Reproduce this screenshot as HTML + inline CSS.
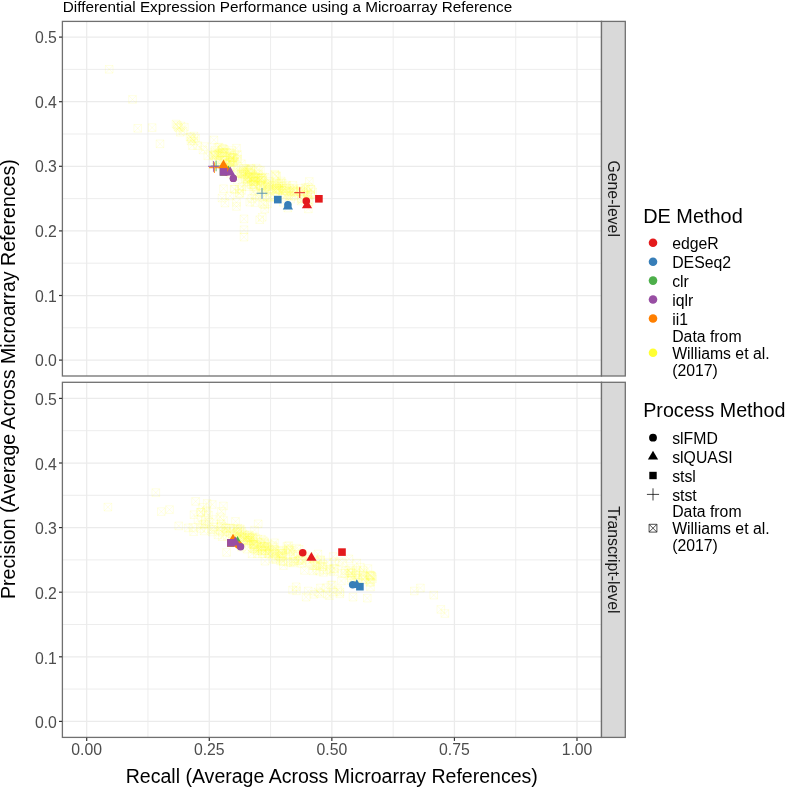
<!DOCTYPE html>
<html><head><meta charset="utf-8"><title>Differential Expression Performance</title>
<style>html,body{margin:0;padding:0;background:#fff;width:785px;height:788px;overflow:hidden}svg{display:block}</style>
</head><body>
<svg width="785" height="788" viewBox="0 0 785 788" font-family="'Liberation Sans', Arial, Helvetica, sans-serif">
<rect width="785" height="788" fill="#fff"/>
<path d="M62.4 327.80H601.5" stroke="#EBEBEB" stroke-width="0.9"/>
<path d="M62.4 263.20H601.5" stroke="#EBEBEB" stroke-width="0.9"/>
<path d="M62.4 198.60H601.5" stroke="#EBEBEB" stroke-width="0.9"/>
<path d="M62.4 134.00H601.5" stroke="#EBEBEB" stroke-width="0.9"/>
<path d="M62.4 69.40H601.5" stroke="#EBEBEB" stroke-width="0.9"/>
<path d="M147.99 21.4V376.0" stroke="#EBEBEB" stroke-width="0.9"/>
<path d="M270.56 21.4V376.0" stroke="#EBEBEB" stroke-width="0.9"/>
<path d="M393.14 21.4V376.0" stroke="#EBEBEB" stroke-width="0.9"/>
<path d="M515.71 21.4V376.0" stroke="#EBEBEB" stroke-width="0.9"/>
<path d="M62.4 360.10H601.5" stroke="#EBEBEB" stroke-width="1.25"/>
<path d="M62.4 295.50H601.5" stroke="#EBEBEB" stroke-width="1.25"/>
<path d="M62.4 230.90H601.5" stroke="#EBEBEB" stroke-width="1.25"/>
<path d="M62.4 166.30H601.5" stroke="#EBEBEB" stroke-width="1.25"/>
<path d="M62.4 101.70H601.5" stroke="#EBEBEB" stroke-width="1.25"/>
<path d="M62.4 37.10H601.5" stroke="#EBEBEB" stroke-width="1.25"/>
<path d="M86.70 21.4V376.0" stroke="#EBEBEB" stroke-width="1.25"/>
<path d="M209.28 21.4V376.0" stroke="#EBEBEB" stroke-width="1.25"/>
<path d="M331.85 21.4V376.0" stroke="#EBEBEB" stroke-width="1.25"/>
<path d="M454.43 21.4V376.0" stroke="#EBEBEB" stroke-width="1.25"/>
<path d="M577.00 21.4V376.0" stroke="#EBEBEB" stroke-width="1.25"/>
<g stroke="#FFFF33" stroke-opacity="0.13" stroke-width="1" fill="none">
<path d="M105.4 65.5h7.6v7.6h-7.6zl7.6 7.6m0 -7.6l-7.6 7.6"/>
<path d="M128.7 95.6h7.6v7.6h-7.6zl7.6 7.6m0 -7.6l-7.6 7.6"/>
<path d="M133.9 124.5h7.6v7.6h-7.6zl7.6 7.6m0 -7.6l-7.6 7.6"/>
<path d="M148.3 123.8h7.6v7.6h-7.6zl7.6 7.6m0 -7.6l-7.6 7.6"/>
<path d="M156.2 140.0h7.6v7.6h-7.6zl7.6 7.6m0 -7.6l-7.6 7.6"/>
<path d="M173.4 121.4h7.6v7.6h-7.6zl7.6 7.6m0 -7.6l-7.6 7.6"/>
<path d="M180.6 123.4h7.6v7.6h-7.6zl7.6 7.6m0 -7.6l-7.6 7.6"/>
<path d="M176.5 128.5h7.6v7.6h-7.6zl7.6 7.6m0 -7.6l-7.6 7.6"/>
<path d="M174.2 123.2h7.6v7.6h-7.6zl7.6 7.6m0 -7.6l-7.6 7.6"/>
<path d="M179.2 127.2h7.6v7.6h-7.6zl7.6 7.6m0 -7.6l-7.6 7.6"/>
<path d="M187.2 133.1h7.6v7.6h-7.6zl7.6 7.6m0 -7.6l-7.6 7.6"/>
<path d="M191.8 134.6h7.6v7.6h-7.6zl7.6 7.6m0 -7.6l-7.6 7.6"/>
<path d="M188.7 141.8h7.6v7.6h-7.6zl7.6 7.6m0 -7.6l-7.6 7.6"/>
<path d="M193.8 141.8h7.6v7.6h-7.6zl7.6 7.6m0 -7.6l-7.6 7.6"/>
<path d="M190.2 137.2h7.6v7.6h-7.6zl7.6 7.6m0 -7.6l-7.6 7.6"/>
<path d="M200.9 142.8h7.6v7.6h-7.6zl7.6 7.6m0 -7.6l-7.6 7.6"/>
<path d="M210.1 136.2h7.6v7.6h-7.6zl7.6 7.6m0 -7.6l-7.6 7.6"/>
<path d="M204.0 152.0h7.6v7.6h-7.6zl7.6 7.6m0 -7.6l-7.6 7.6"/>
<path d="M199.2 146.2h7.6v7.6h-7.6zl7.6 7.6m0 -7.6l-7.6 7.6"/>
<path d="M221.2 199.2h7.6v7.6h-7.6zl7.6 7.6m0 -7.6l-7.6 7.6"/>
<path d="M232.7 198.6h7.6v7.6h-7.6zl7.6 7.6m0 -7.6l-7.6 7.6"/>
<path d="M232.7 202.7h7.6v7.6h-7.6zl7.6 7.6m0 -7.6l-7.6 7.6"/>
<path d="M260.9 201.0h7.6v7.6h-7.6zl7.6 7.6m0 -7.6l-7.6 7.6"/>
<path d="M260.9 205.2h7.6v7.6h-7.6zl7.6 7.6m0 -7.6l-7.6 7.6"/>
<path d="M240.2 215.1h7.6v7.6h-7.6zl7.6 7.6m0 -7.6l-7.6 7.6"/>
<path d="M255.9 215.9h7.6v7.6h-7.6zl7.6 7.6m0 -7.6l-7.6 7.6"/>
<path d="M258.4 213.5h7.6v7.6h-7.6zl7.6 7.6m0 -7.6l-7.6 7.6"/>
<path d="M240.2 225.9h7.6v7.6h-7.6zl7.6 7.6m0 -7.6l-7.6 7.6"/>
<path d="M240.2 233.3h7.6v7.6h-7.6zl7.6 7.6m0 -7.6l-7.6 7.6"/>
<path d="M259.2 200.2h7.6v7.6h-7.6zl7.6 7.6m0 -7.6l-7.6 7.6"/>
<path d="M284.0 204.2h7.6v7.6h-7.6zl7.6 7.6m0 -7.6l-7.6 7.6"/>
<path d="M218.2 194.2h7.6v7.6h-7.6zl7.6 7.6m0 -7.6l-7.6 7.6"/>
<path d="M226.2 192.2h7.6v7.6h-7.6zl7.6 7.6m0 -7.6l-7.6 7.6"/>
<path d="M254.5 166.0h7.6v7.6h-7.6zl7.6 7.6m0 -7.6l-7.6 7.6"/>
<path d="M264.1 182.8h7.6v7.6h-7.6zl7.6 7.6m0 -7.6l-7.6 7.6"/>
<path d="M267.8 181.7h7.6v7.6h-7.6zl7.6 7.6m0 -7.6l-7.6 7.6"/>
<path d="M287.2 187.2h7.6v7.6h-7.6zl7.6 7.6m0 -7.6l-7.6 7.6"/>
<path d="M304.2 196.1h7.6v7.6h-7.6zl7.6 7.6m0 -7.6l-7.6 7.6"/>
<path d="M211.2 146.4h7.6v7.6h-7.6zl7.6 7.6m0 -7.6l-7.6 7.6"/>
<path d="M226.6 158.1h7.6v7.6h-7.6zl7.6 7.6m0 -7.6l-7.6 7.6"/>
<path d="M289.4 187.2h7.6v7.6h-7.6zl7.6 7.6m0 -7.6l-7.6 7.6"/>
<path d="M254.0 174.4h7.6v7.6h-7.6zl7.6 7.6m0 -7.6l-7.6 7.6"/>
<path d="M304.6 205.1h7.6v7.6h-7.6zl7.6 7.6m0 -7.6l-7.6 7.6"/>
<path d="M237.8 170.1h7.6v7.6h-7.6zl7.6 7.6m0 -7.6l-7.6 7.6"/>
<path d="M243.6 175.1h7.6v7.6h-7.6zl7.6 7.6m0 -7.6l-7.6 7.6"/>
<path d="M303.7 189.8h7.6v7.6h-7.6zl7.6 7.6m0 -7.6l-7.6 7.6"/>
<path d="M250.0 187.4h7.6v7.6h-7.6zl7.6 7.6m0 -7.6l-7.6 7.6"/>
<path d="M217.7 146.6h7.6v7.6h-7.6zl7.6 7.6m0 -7.6l-7.6 7.6"/>
<path d="M239.5 170.2h7.6v7.6h-7.6zl7.6 7.6m0 -7.6l-7.6 7.6"/>
<path d="M220.5 156.4h7.6v7.6h-7.6zl7.6 7.6m0 -7.6l-7.6 7.6"/>
<path d="M222.0 160.5h7.6v7.6h-7.6zl7.6 7.6m0 -7.6l-7.6 7.6"/>
<path d="M225.9 158.7h7.6v7.6h-7.6zl7.6 7.6m0 -7.6l-7.6 7.6"/>
<path d="M248.1 173.5h7.6v7.6h-7.6zl7.6 7.6m0 -7.6l-7.6 7.6"/>
<path d="M303.8 191.4h7.6v7.6h-7.6zl7.6 7.6m0 -7.6l-7.6 7.6"/>
<path d="M246.7 169.4h7.6v7.6h-7.6zl7.6 7.6m0 -7.6l-7.6 7.6"/>
<path d="M216.4 156.1h7.6v7.6h-7.6zl7.6 7.6m0 -7.6l-7.6 7.6"/>
<path d="M233.5 176.2h7.6v7.6h-7.6zl7.6 7.6m0 -7.6l-7.6 7.6"/>
<path d="M218.8 149.1h7.6v7.6h-7.6zl7.6 7.6m0 -7.6l-7.6 7.6"/>
<path d="M252.7 173.5h7.6v7.6h-7.6zl7.6 7.6m0 -7.6l-7.6 7.6"/>
<path d="M261.4 183.5h7.6v7.6h-7.6zl7.6 7.6m0 -7.6l-7.6 7.6"/>
<path d="M286.9 195.3h7.6v7.6h-7.6zl7.6 7.6m0 -7.6l-7.6 7.6"/>
<path d="M279.3 189.4h7.6v7.6h-7.6zl7.6 7.6m0 -7.6l-7.6 7.6"/>
<path d="M265.9 177.8h7.6v7.6h-7.6zl7.6 7.6m0 -7.6l-7.6 7.6"/>
<path d="M210.5 152.3h7.6v7.6h-7.6zl7.6 7.6m0 -7.6l-7.6 7.6"/>
<path d="M289.2 181.6h7.6v7.6h-7.6zl7.6 7.6m0 -7.6l-7.6 7.6"/>
<path d="M224.8 158.2h7.6v7.6h-7.6zl7.6 7.6m0 -7.6l-7.6 7.6"/>
<path d="M290.4 192.0h7.6v7.6h-7.6zl7.6 7.6m0 -7.6l-7.6 7.6"/>
<path d="M299.5 188.1h7.6v7.6h-7.6zl7.6 7.6m0 -7.6l-7.6 7.6"/>
<path d="M212.3 156.4h7.6v7.6h-7.6zl7.6 7.6m0 -7.6l-7.6 7.6"/>
<path d="M262.3 185.6h7.6v7.6h-7.6zl7.6 7.6m0 -7.6l-7.6 7.6"/>
<path d="M272.8 171.9h7.6v7.6h-7.6zl7.6 7.6m0 -7.6l-7.6 7.6"/>
<path d="M221.5 158.1h7.6v7.6h-7.6zl7.6 7.6m0 -7.6l-7.6 7.6"/>
<path d="M306.9 185.4h7.6v7.6h-7.6zl7.6 7.6m0 -7.6l-7.6 7.6"/>
<path d="M251.7 177.5h7.6v7.6h-7.6zl7.6 7.6m0 -7.6l-7.6 7.6"/>
<path d="M259.2 176.6h7.6v7.6h-7.6zl7.6 7.6m0 -7.6l-7.6 7.6"/>
<path d="M278.4 182.4h7.6v7.6h-7.6zl7.6 7.6m0 -7.6l-7.6 7.6"/>
<path d="M276.9 179.0h7.6v7.6h-7.6zl7.6 7.6m0 -7.6l-7.6 7.6"/>
<path d="M242.7 174.6h7.6v7.6h-7.6zl7.6 7.6m0 -7.6l-7.6 7.6"/>
<path d="M243.5 168.5h7.6v7.6h-7.6zl7.6 7.6m0 -7.6l-7.6 7.6"/>
<path d="M219.3 145.1h7.6v7.6h-7.6zl7.6 7.6m0 -7.6l-7.6 7.6"/>
<path d="M246.7 166.1h7.6v7.6h-7.6zl7.6 7.6m0 -7.6l-7.6 7.6"/>
<path d="M247.5 176.4h7.6v7.6h-7.6zl7.6 7.6m0 -7.6l-7.6 7.6"/>
<path d="M264.8 179.5h7.6v7.6h-7.6zl7.6 7.6m0 -7.6l-7.6 7.6"/>
<path d="M277.4 177.2h7.6v7.6h-7.6zl7.6 7.6m0 -7.6l-7.6 7.6"/>
<path d="M210.7 148.1h7.6v7.6h-7.6zl7.6 7.6m0 -7.6l-7.6 7.6"/>
<path d="M226.4 163.5h7.6v7.6h-7.6zl7.6 7.6m0 -7.6l-7.6 7.6"/>
<path d="M296.9 184.5h7.6v7.6h-7.6zl7.6 7.6m0 -7.6l-7.6 7.6"/>
<path d="M233.1 155.6h7.6v7.6h-7.6zl7.6 7.6m0 -7.6l-7.6 7.6"/>
<path d="M245.5 167.1h7.6v7.6h-7.6zl7.6 7.6m0 -7.6l-7.6 7.6"/>
<path d="M227.6 149.2h7.6v7.6h-7.6zl7.6 7.6m0 -7.6l-7.6 7.6"/>
<path d="M304.3 183.4h7.6v7.6h-7.6zl7.6 7.6m0 -7.6l-7.6 7.6"/>
<path d="M250.6 174.2h7.6v7.6h-7.6zl7.6 7.6m0 -7.6l-7.6 7.6"/>
<path d="M252.1 183.4h7.6v7.6h-7.6zl7.6 7.6m0 -7.6l-7.6 7.6"/>
<path d="M306.9 190.3h7.6v7.6h-7.6zl7.6 7.6m0 -7.6l-7.6 7.6"/>
<path d="M211.5 149.9h7.6v7.6h-7.6zl7.6 7.6m0 -7.6l-7.6 7.6"/>
<path d="M236.2 168.5h7.6v7.6h-7.6zl7.6 7.6m0 -7.6l-7.6 7.6"/>
<path d="M209.6 151.4h7.6v7.6h-7.6zl7.6 7.6m0 -7.6l-7.6 7.6"/>
<path d="M218.3 159.5h7.6v7.6h-7.6zl7.6 7.6m0 -7.6l-7.6 7.6"/>
<path d="M271.6 181.4h7.6v7.6h-7.6zl7.6 7.6m0 -7.6l-7.6 7.6"/>
<path d="M275.2 184.5h7.6v7.6h-7.6zl7.6 7.6m0 -7.6l-7.6 7.6"/>
<path d="M251.2 177.2h7.6v7.6h-7.6zl7.6 7.6m0 -7.6l-7.6 7.6"/>
<path d="M237.6 159.9h7.6v7.6h-7.6zl7.6 7.6m0 -7.6l-7.6 7.6"/>
<path d="M280.5 184.8h7.6v7.6h-7.6zl7.6 7.6m0 -7.6l-7.6 7.6"/>
<path d="M297.2 197.2h7.6v7.6h-7.6zl7.6 7.6m0 -7.6l-7.6 7.6"/>
<path d="M249.4 172.2h7.6v7.6h-7.6zl7.6 7.6m0 -7.6l-7.6 7.6"/>
<path d="M246.9 164.6h7.6v7.6h-7.6zl7.6 7.6m0 -7.6l-7.6 7.6"/>
<path d="M256.6 166.6h7.6v7.6h-7.6zl7.6 7.6m0 -7.6l-7.6 7.6"/>
<path d="M276.2 186.4h7.6v7.6h-7.6zl7.6 7.6m0 -7.6l-7.6 7.6"/>
<path d="M301.6 183.8h7.6v7.6h-7.6zl7.6 7.6m0 -7.6l-7.6 7.6"/>
<path d="M257.2 182.0h7.6v7.6h-7.6zl7.6 7.6m0 -7.6l-7.6 7.6"/>
<path d="M244.2 166.1h7.6v7.6h-7.6zl7.6 7.6m0 -7.6l-7.6 7.6"/>
<path d="M258.4 182.1h7.6v7.6h-7.6zl7.6 7.6m0 -7.6l-7.6 7.6"/>
<path d="M214.4 151.8h7.6v7.6h-7.6zl7.6 7.6m0 -7.6l-7.6 7.6"/>
<path d="M237.9 170.4h7.6v7.6h-7.6zl7.6 7.6m0 -7.6l-7.6 7.6"/>
<path d="M278.5 186.9h7.6v7.6h-7.6zl7.6 7.6m0 -7.6l-7.6 7.6"/>
<path d="M305.5 177.7h7.6v7.6h-7.6zl7.6 7.6m0 -7.6l-7.6 7.6"/>
<path d="M256.5 182.3h7.6v7.6h-7.6zl7.6 7.6m0 -7.6l-7.6 7.6"/>
<path d="M271.3 171.3h7.6v7.6h-7.6zl7.6 7.6m0 -7.6l-7.6 7.6"/>
<path d="M245.5 168.4h7.6v7.6h-7.6zl7.6 7.6m0 -7.6l-7.6 7.6"/>
<path d="M220.4 165.0h7.6v7.6h-7.6zl7.6 7.6m0 -7.6l-7.6 7.6"/>
<path d="M226.5 158.9h7.6v7.6h-7.6zl7.6 7.6m0 -7.6l-7.6 7.6"/>
<path d="M263.3 192.1h7.6v7.6h-7.6zl7.6 7.6m0 -7.6l-7.6 7.6"/>
<path d="M285.7 184.3h7.6v7.6h-7.6zl7.6 7.6m0 -7.6l-7.6 7.6"/>
<path d="M274.2 185.9h7.6v7.6h-7.6zl7.6 7.6m0 -7.6l-7.6 7.6"/>
<path d="M298.3 195.8h7.6v7.6h-7.6zl7.6 7.6m0 -7.6l-7.6 7.6"/>
<path d="M226.4 149.1h7.6v7.6h-7.6zl7.6 7.6m0 -7.6l-7.6 7.6"/>
<path d="M239.7 166.7h7.6v7.6h-7.6zl7.6 7.6m0 -7.6l-7.6 7.6"/>
<path d="M300.3 194.8h7.6v7.6h-7.6zl7.6 7.6m0 -7.6l-7.6 7.6"/>
<path d="M228.8 161.2h7.6v7.6h-7.6zl7.6 7.6m0 -7.6l-7.6 7.6"/>
<path d="M241.3 168.8h7.6v7.6h-7.6zl7.6 7.6m0 -7.6l-7.6 7.6"/>
<path d="M256.2 176.6h7.6v7.6h-7.6zl7.6 7.6m0 -7.6l-7.6 7.6"/>
<path d="M259.3 173.2h7.6v7.6h-7.6zl7.6 7.6m0 -7.6l-7.6 7.6"/>
<path d="M222.2 161.3h7.6v7.6h-7.6zl7.6 7.6m0 -7.6l-7.6 7.6"/>
<path d="M271.1 170.4h7.6v7.6h-7.6zl7.6 7.6m0 -7.6l-7.6 7.6"/>
<path d="M233.8 155.0h7.6v7.6h-7.6zl7.6 7.6m0 -7.6l-7.6 7.6"/>
<path d="M299.2 186.6h7.6v7.6h-7.6zl7.6 7.6m0 -7.6l-7.6 7.6"/>
<path d="M308.9 188.2h7.6v7.6h-7.6zl7.6 7.6m0 -7.6l-7.6 7.6"/>
<path d="M230.0 164.1h7.6v7.6h-7.6zl7.6 7.6m0 -7.6l-7.6 7.6"/>
<path d="M244.0 178.2h7.6v7.6h-7.6zl7.6 7.6m0 -7.6l-7.6 7.6"/>
<path d="M245.1 173.4h7.6v7.6h-7.6zl7.6 7.6m0 -7.6l-7.6 7.6"/>
<path d="M297.6 194.7h7.6v7.6h-7.6zl7.6 7.6m0 -7.6l-7.6 7.6"/>
<path d="M253.6 178.1h7.6v7.6h-7.6zl7.6 7.6m0 -7.6l-7.6 7.6"/>
<path d="M217.6 149.2h7.6v7.6h-7.6zl7.6 7.6m0 -7.6l-7.6 7.6"/>
<path d="M261.4 173.5h7.6v7.6h-7.6zl7.6 7.6m0 -7.6l-7.6 7.6"/>
<path d="M227.8 159.1h7.6v7.6h-7.6zl7.6 7.6m0 -7.6l-7.6 7.6"/>
<path d="M300.3 191.0h7.6v7.6h-7.6zl7.6 7.6m0 -7.6l-7.6 7.6"/>
<path d="M282.6 184.1h7.6v7.6h-7.6zl7.6 7.6m0 -7.6l-7.6 7.6"/>
<path d="M258.3 174.3h7.6v7.6h-7.6zl7.6 7.6m0 -7.6l-7.6 7.6"/>
<path d="M291.9 188.1h7.6v7.6h-7.6zl7.6 7.6m0 -7.6l-7.6 7.6"/>
<path d="M281.2 182.1h7.6v7.6h-7.6zl7.6 7.6m0 -7.6l-7.6 7.6"/>
<path d="M209.4 151.1h7.6v7.6h-7.6zl7.6 7.6m0 -7.6l-7.6 7.6"/>
<path d="M274.3 186.3h7.6v7.6h-7.6zl7.6 7.6m0 -7.6l-7.6 7.6"/>
<path d="M256.2 181.6h7.6v7.6h-7.6zl7.6 7.6m0 -7.6l-7.6 7.6"/>
<path d="M226.7 169.8h7.6v7.6h-7.6zl7.6 7.6m0 -7.6l-7.6 7.6"/>
<path d="M252.4 164.3h7.6v7.6h-7.6zl7.6 7.6m0 -7.6l-7.6 7.6"/>
<path d="M273.1 182.3h7.6v7.6h-7.6zl7.6 7.6m0 -7.6l-7.6 7.6"/>
<path d="M212.5 156.4h7.6v7.6h-7.6zl7.6 7.6m0 -7.6l-7.6 7.6"/>
<path d="M214.0 143.6h7.6v7.6h-7.6zl7.6 7.6m0 -7.6l-7.6 7.6"/>
<path d="M302.4 185.3h7.6v7.6h-7.6zl7.6 7.6m0 -7.6l-7.6 7.6"/>
<path d="M272.3 172.7h7.6v7.6h-7.6zl7.6 7.6m0 -7.6l-7.6 7.6"/>
<path d="M266.0 193.0h7.6v7.6h-7.6zl7.6 7.6m0 -7.6l-7.6 7.6"/>
<path d="M304.7 196.2h7.6v7.6h-7.6zl7.6 7.6m0 -7.6l-7.6 7.6"/>
<path d="M247.9 170.1h7.6v7.6h-7.6zl7.6 7.6m0 -7.6l-7.6 7.6"/>
<path d="M241.5 175.3h7.6v7.6h-7.6zl7.6 7.6m0 -7.6l-7.6 7.6"/>
<path d="M257.7 174.4h7.6v7.6h-7.6zl7.6 7.6m0 -7.6l-7.6 7.6"/>
<path d="M307.4 185.8h7.6v7.6h-7.6zl7.6 7.6m0 -7.6l-7.6 7.6"/>
<path d="M284.4 188.2h7.6v7.6h-7.6zl7.6 7.6m0 -7.6l-7.6 7.6"/>
<path d="M225.7 153.2h7.6v7.6h-7.6zl7.6 7.6m0 -7.6l-7.6 7.6"/>
<path d="M215.6 150.5h7.6v7.6h-7.6zl7.6 7.6m0 -7.6l-7.6 7.6"/>
<path d="M257.6 174.5h7.6v7.6h-7.6zl7.6 7.6m0 -7.6l-7.6 7.6"/>
<path d="M259.0 188.3h7.6v7.6h-7.6zl7.6 7.6m0 -7.6l-7.6 7.6"/>
<path d="M233.1 170.1h7.6v7.6h-7.6zl7.6 7.6m0 -7.6l-7.6 7.6"/>
<path d="M279.7 186.7h7.6v7.6h-7.6zl7.6 7.6m0 -7.6l-7.6 7.6"/>
<path d="M279.5 198.6h7.6v7.6h-7.6zl7.6 7.6m0 -7.6l-7.6 7.6"/>
<path d="M297.0 187.6h7.6v7.6h-7.6zl7.6 7.6m0 -7.6l-7.6 7.6"/>
<path d="M306.7 191.5h7.6v7.6h-7.6zl7.6 7.6m0 -7.6l-7.6 7.6"/>
<path d="M255.0 174.3h7.6v7.6h-7.6zl7.6 7.6m0 -7.6l-7.6 7.6"/>
<path d="M265.5 185.0h7.6v7.6h-7.6zl7.6 7.6m0 -7.6l-7.6 7.6"/>
<path d="M212.8 151.0h7.6v7.6h-7.6zl7.6 7.6m0 -7.6l-7.6 7.6"/>
<path d="M249.2 173.2h7.6v7.6h-7.6zl7.6 7.6m0 -7.6l-7.6 7.6"/>
<path d="M243.3 178.2h7.6v7.6h-7.6zl7.6 7.6m0 -7.6l-7.6 7.6"/>
<path d="M305.5 197.7h7.6v7.6h-7.6zl7.6 7.6m0 -7.6l-7.6 7.6"/>
<path d="M296.5 188.1h7.6v7.6h-7.6zl7.6 7.6m0 -7.6l-7.6 7.6"/>
<path d="M257.2 176.6h7.6v7.6h-7.6zl7.6 7.6m0 -7.6l-7.6 7.6"/>
<path d="M272.6 180.3h7.6v7.6h-7.6zl7.6 7.6m0 -7.6l-7.6 7.6"/>
<path d="M243.1 182.9h7.6v7.6h-7.6zl7.6 7.6m0 -7.6l-7.6 7.6"/>
<path d="M237.8 169.3h7.6v7.6h-7.6zl7.6 7.6m0 -7.6l-7.6 7.6"/>
<path d="M271.8 187.8h7.6v7.6h-7.6zl7.6 7.6m0 -7.6l-7.6 7.6"/>
<path d="M272.8 184.0h7.6v7.6h-7.6zl7.6 7.6m0 -7.6l-7.6 7.6"/>
<path d="M256.9 175.9h7.6v7.6h-7.6zl7.6 7.6m0 -7.6l-7.6 7.6"/>
<path d="M285.2 191.8h7.6v7.6h-7.6zl7.6 7.6m0 -7.6l-7.6 7.6"/>
<path d="M282.8 181.3h7.6v7.6h-7.6zl7.6 7.6m0 -7.6l-7.6 7.6"/>
<path d="M247.1 177.6h7.6v7.6h-7.6zl7.6 7.6m0 -7.6l-7.6 7.6"/>
<path d="M272.7 184.8h7.6v7.6h-7.6zl7.6 7.6m0 -7.6l-7.6 7.6"/>
<path d="M290.1 185.8h7.6v7.6h-7.6zl7.6 7.6m0 -7.6l-7.6 7.6"/>
<path d="M238.6 172.3h7.6v7.6h-7.6zl7.6 7.6m0 -7.6l-7.6 7.6"/>
<path d="M261.4 182.8h7.6v7.6h-7.6zl7.6 7.6m0 -7.6l-7.6 7.6"/>
<path d="M281.5 187.3h7.6v7.6h-7.6zl7.6 7.6m0 -7.6l-7.6 7.6"/>
<path d="M251.7 173.6h7.6v7.6h-7.6zl7.6 7.6m0 -7.6l-7.6 7.6"/>
<path d="M250.0 178.1h7.6v7.6h-7.6zl7.6 7.6m0 -7.6l-7.6 7.6"/>
<path d="M242.4 165.3h7.6v7.6h-7.6zl7.6 7.6m0 -7.6l-7.6 7.6"/>
<path d="M288.0 192.7h7.6v7.6h-7.6zl7.6 7.6m0 -7.6l-7.6 7.6"/>
<path d="M249.3 180.8h7.6v7.6h-7.6zl7.6 7.6m0 -7.6l-7.6 7.6"/>
<path d="M290.8 188.8h7.6v7.6h-7.6zl7.6 7.6m0 -7.6l-7.6 7.6"/>
<path d="M252.0 182.6h7.6v7.6h-7.6zl7.6 7.6m0 -7.6l-7.6 7.6"/>
<path d="M247.7 164.9h7.6v7.6h-7.6zl7.6 7.6m0 -7.6l-7.6 7.6"/>
<path d="M269.0 182.9h7.6v7.6h-7.6zl7.6 7.6m0 -7.6l-7.6 7.6"/>
<path d="M288.7 184.6h7.6v7.6h-7.6zl7.6 7.6m0 -7.6l-7.6 7.6"/>
<path d="M270.1 181.6h7.6v7.6h-7.6zl7.6 7.6m0 -7.6l-7.6 7.6"/>
<path d="M283.2 190.3h7.6v7.6h-7.6zl7.6 7.6m0 -7.6l-7.6 7.6"/>
<path d="M239.4 164.6h7.6v7.6h-7.6zl7.6 7.6m0 -7.6l-7.6 7.6"/>
<path d="M239.2 167.9h7.6v7.6h-7.6zl7.6 7.6m0 -7.6l-7.6 7.6"/>
<path d="M251.6 172.6h7.6v7.6h-7.6zl7.6 7.6m0 -7.6l-7.6 7.6"/>
<path d="M263.3 180.2h7.6v7.6h-7.6zl7.6 7.6m0 -7.6l-7.6 7.6"/>
<path d="M271.1 192.8h7.6v7.6h-7.6zl7.6 7.6m0 -7.6l-7.6 7.6"/>
<path d="M275.1 179.9h7.6v7.6h-7.6zl7.6 7.6m0 -7.6l-7.6 7.6"/>
<path d="M275.2 185.6h7.6v7.6h-7.6zl7.6 7.6m0 -7.6l-7.6 7.6"/>
<path d="M281.4 192.4h7.6v7.6h-7.6zl7.6 7.6m0 -7.6l-7.6 7.6"/>
<path d="M278.4 179.2h7.6v7.6h-7.6zl7.6 7.6m0 -7.6l-7.6 7.6"/>
<path d="M259.4 186.0h7.6v7.6h-7.6zl7.6 7.6m0 -7.6l-7.6 7.6"/>
<path d="M244.2 173.5h7.6v7.6h-7.6zl7.6 7.6m0 -7.6l-7.6 7.6"/>
<path d="M249.8 177.6h7.6v7.6h-7.6zl7.6 7.6m0 -7.6l-7.6 7.6"/>
<path d="M272.9 184.5h7.6v7.6h-7.6zl7.6 7.6m0 -7.6l-7.6 7.6"/>
<path d="M241.0 164.5h7.6v7.6h-7.6zl7.6 7.6m0 -7.6l-7.6 7.6"/>
<path d="M241.1 170.6h7.6v7.6h-7.6zl7.6 7.6m0 -7.6l-7.6 7.6"/>
<path d="M246.1 173.9h7.6v7.6h-7.6zl7.6 7.6m0 -7.6l-7.6 7.6"/>
<path d="M249.9 180.7h7.6v7.6h-7.6zl7.6 7.6m0 -7.6l-7.6 7.6"/>
<path d="M254.7 170.3h7.6v7.6h-7.6zl7.6 7.6m0 -7.6l-7.6 7.6"/>
<path d="M289.9 186.4h7.6v7.6h-7.6zl7.6 7.6m0 -7.6l-7.6 7.6"/>
<path d="M265.2 186.7h7.6v7.6h-7.6zl7.6 7.6m0 -7.6l-7.6 7.6"/>
<path d="M293.0 187.3h7.6v7.6h-7.6zl7.6 7.6m0 -7.6l-7.6 7.6"/>
<path d="M265.7 181.1h7.6v7.6h-7.6zl7.6 7.6m0 -7.6l-7.6 7.6"/>
<path d="M249.5 174.5h7.6v7.6h-7.6zl7.6 7.6m0 -7.6l-7.6 7.6"/>
<path d="M235.6 189.4h7.6v7.6h-7.6zl7.6 7.6m0 -7.6l-7.6 7.6"/>
<path d="M230.3 185.5h7.6v7.6h-7.6zl7.6 7.6m0 -7.6l-7.6 7.6"/>
<path d="M260.8 191.7h7.6v7.6h-7.6zl7.6 7.6m0 -7.6l-7.6 7.6"/>
<path d="M247.9 194.7h7.6v7.6h-7.6zl7.6 7.6m0 -7.6l-7.6 7.6"/>
<path d="M219.7 184.9h7.6v7.6h-7.6zl7.6 7.6m0 -7.6l-7.6 7.6"/>
<path d="M235.4 185.3h7.6v7.6h-7.6zl7.6 7.6m0 -7.6l-7.6 7.6"/>
<path d="M247.6 181.0h7.6v7.6h-7.6zl7.6 7.6m0 -7.6l-7.6 7.6"/>
<path d="M238.2 183.0h7.6v7.6h-7.6zl7.6 7.6m0 -7.6l-7.6 7.6"/>
<path d="M263.9 200.0h7.6v7.6h-7.6zl7.6 7.6m0 -7.6l-7.6 7.6"/>
<path d="M246.0 198.3h7.6v7.6h-7.6zl7.6 7.6m0 -7.6l-7.6 7.6"/>
<path d="M237.7 186.7h7.6v7.6h-7.6zl7.6 7.6m0 -7.6l-7.6 7.6"/>
<path d="M251.3 198.8h7.6v7.6h-7.6zl7.6 7.6m0 -7.6l-7.6 7.6"/>
<path d="M230.9 185.4h7.6v7.6h-7.6zl7.6 7.6m0 -7.6l-7.6 7.6"/>
<path d="M253.1 191.9h7.6v7.6h-7.6zl7.6 7.6m0 -7.6l-7.6 7.6"/>
<path d="M256.0 193.3h7.6v7.6h-7.6zl7.6 7.6m0 -7.6l-7.6 7.6"/>
<path d="M266.2 194.0h7.6v7.6h-7.6zl7.6 7.6m0 -7.6l-7.6 7.6"/>
<path d="M251.3 190.3h7.6v7.6h-7.6zl7.6 7.6m0 -7.6l-7.6 7.6"/>
<path d="M235.8 189.7h7.6v7.6h-7.6zl7.6 7.6m0 -7.6l-7.6 7.6"/>
<path d="M221.7 148.5h7.6v7.6h-7.6zl7.6 7.6m0 -7.6l-7.6 7.6"/>
<path d="M221.1 156.8h7.6v7.6h-7.6zl7.6 7.6m0 -7.6l-7.6 7.6"/>
<path d="M229.0 157.7h7.6v7.6h-7.6zl7.6 7.6m0 -7.6l-7.6 7.6"/>
<path d="M226.6 157.2h7.6v7.6h-7.6zl7.6 7.6m0 -7.6l-7.6 7.6"/>
<path d="M229.9 153.6h7.6v7.6h-7.6zl7.6 7.6m0 -7.6l-7.6 7.6"/>
<path d="M216.6 149.5h7.6v7.6h-7.6zl7.6 7.6m0 -7.6l-7.6 7.6"/>
<path d="M233.7 150.7h7.6v7.6h-7.6zl7.6 7.6m0 -7.6l-7.6 7.6"/>
<path d="M230.9 151.2h7.6v7.6h-7.6zl7.6 7.6m0 -7.6l-7.6 7.6"/>
<path d="M221.1 152.0h7.6v7.6h-7.6zl7.6 7.6m0 -7.6l-7.6 7.6"/>
<path d="M232.7 144.4h7.6v7.6h-7.6zl7.6 7.6m0 -7.6l-7.6 7.6"/>
<path d="M218.5 144.6h7.6v7.6h-7.6zl7.6 7.6m0 -7.6l-7.6 7.6"/>
<path d="M220.3 148.7h7.6v7.6h-7.6zl7.6 7.6m0 -7.6l-7.6 7.6"/>
<path d="M229.7 153.5h7.6v7.6h-7.6zl7.6 7.6m0 -7.6l-7.6 7.6"/>
<path d="M227.9 146.7h7.6v7.6h-7.6zl7.6 7.6m0 -7.6l-7.6 7.6"/>
<path d="M215.4 143.3h7.6v7.6h-7.6zl7.6 7.6m0 -7.6l-7.6 7.6"/>
<path d="M231.0 157.5h7.6v7.6h-7.6zl7.6 7.6m0 -7.6l-7.6 7.6"/>
<path d="M226.6 152.9h7.6v7.6h-7.6zl7.6 7.6m0 -7.6l-7.6 7.6"/>
<path d="M223.3 160.1h7.6v7.6h-7.6zl7.6 7.6m0 -7.6l-7.6 7.6"/>
<path d="M223.1 149.1h7.6v7.6h-7.6zl7.6 7.6m0 -7.6l-7.6 7.6"/>
<path d="M229.0 154.5h7.6v7.6h-7.6zl7.6 7.6m0 -7.6l-7.6 7.6"/>
<path d="M228.8 154.0h7.6v7.6h-7.6zl7.6 7.6m0 -7.6l-7.6 7.6"/>
<path d="M228.0 153.9h7.6v7.6h-7.6zl7.6 7.6m0 -7.6l-7.6 7.6"/>
<path d="M219.0 148.3h7.6v7.6h-7.6zl7.6 7.6m0 -7.6l-7.6 7.6"/>
<path d="M220.2 145.4h7.6v7.6h-7.6zl7.6 7.6m0 -7.6l-7.6 7.6"/>
<path d="M218.4 152.3h7.6v7.6h-7.6zl7.6 7.6m0 -7.6l-7.6 7.6"/>
<path d="M172.2 120.2h7.6v7.6h-7.6zl7.6 7.6m0 -7.6l-7.6 7.6"/>
<path d="M175.2 124.2h7.6v7.6h-7.6zl7.6 7.6m0 -7.6l-7.6 7.6"/>
<path d="M177.2 122.2h7.6v7.6h-7.6zl7.6 7.6m0 -7.6l-7.6 7.6"/>
<path d="M186.2 133.2h7.6v7.6h-7.6zl7.6 7.6m0 -7.6l-7.6 7.6"/>
<path d="M188.2 135.2h7.6v7.6h-7.6zl7.6 7.6m0 -7.6l-7.6 7.6"/>
<path d="M190.2 132.2h7.6v7.6h-7.6zl7.6 7.6m0 -7.6l-7.6 7.6"/>
<path d="M187.2 137.2h7.6v7.6h-7.6zl7.6 7.6m0 -7.6l-7.6 7.6"/>
</g>
<path d="M210.73 166.00H221.47M216.10 160.63V171.37" stroke="#4DAF4A" stroke-width="1.1" stroke-opacity="0.78" fill="none"/>
<path d="M209.03 167.60H219.77M214.40 162.23V172.97" stroke="#FF7F00" stroke-width="1.1" stroke-opacity="0.78" fill="none"/>
<path d="M208.13 166.40H218.87M213.50 161.03V171.77" stroke="#984EA3" stroke-width="1.1" stroke-opacity="0.78" fill="none"/>
<rect x="219.70" y="168.10" width="7.60" height="7.60" fill="#4DAF4A"/>
<circle cx="233.30" cy="178.40" r="3.40" fill="#4DAF4A"/>
<circle cx="233.30" cy="178.40" r="3.40" fill="#FF7F00"/>
<polygon points="228.40,165.49 233.52,174.35 223.28,174.35" fill="#4DAF4A"/>
<rect x="221.20" y="167.70" width="7.60" height="7.60" fill="#FF7F00"/>
<polygon points="223.50,159.49 228.62,168.35 218.38,168.35" fill="#FF7F00"/>
<rect x="219.70" y="168.10" width="7.60" height="7.60" fill="#984EA3"/>
<polygon points="230.20,166.59 235.32,175.45 225.08,175.45" fill="#984EA3"/>
<circle cx="233.30" cy="178.40" r="3.70" fill="#984EA3"/>
<path d="M256.63 193.30H267.37M262.00 187.93V198.67" stroke="#377EB8" stroke-width="1.1" stroke-opacity="0.78" fill="none"/>
<rect x="274.00" y="195.80" width="7.60" height="7.60" fill="#377EB8"/>
<circle cx="287.90" cy="204.90" r="3.80" fill="#377EB8"/>
<polygon points="287.90,200.69 293.02,209.55 282.78,209.55" fill="#377EB8"/>
<path d="M294.33 192.60H305.07M299.70 187.23V197.97" stroke="#E41A1C" stroke-width="1.1" stroke-opacity="0.78" fill="none"/>
<circle cx="306.30" cy="201.00" r="3.80" fill="#E41A1C"/>
<polygon points="307.00,199.49 312.12,208.35 301.88,208.35" fill="#E41A1C"/>
<rect x="315.10" y="195.00" width="7.60" height="7.60" fill="#E41A1C"/>
<rect x="62.40" y="21.40" width="539.10" height="354.60" fill="none" stroke="#707070" stroke-width="1.3"/>
<rect x="601.50" y="21.40" width="23.80" height="354.60" fill="#D9D9D9" stroke="#707070" stroke-width="1.3"/>
<text transform="translate(607.6 198.70) rotate(90)" text-anchor="middle" font-size="15.8" fill="#1A1A1A">Gene-level</text>
<path d="M59.0 360.10H62.10" stroke="#333" stroke-width="1.2"/>
<text x="56.9" y="366.10" text-anchor="end" font-size="15.8" fill="#4D4D4D">0.0</text>
<path d="M59.0 295.50H62.10" stroke="#333" stroke-width="1.2"/>
<text x="56.9" y="301.50" text-anchor="end" font-size="15.8" fill="#4D4D4D">0.1</text>
<path d="M59.0 230.90H62.10" stroke="#333" stroke-width="1.2"/>
<text x="56.9" y="236.90" text-anchor="end" font-size="15.8" fill="#4D4D4D">0.2</text>
<path d="M59.0 166.30H62.10" stroke="#333" stroke-width="1.2"/>
<text x="56.9" y="172.30" text-anchor="end" font-size="15.8" fill="#4D4D4D">0.3</text>
<path d="M59.0 101.70H62.10" stroke="#333" stroke-width="1.2"/>
<text x="56.9" y="107.70" text-anchor="end" font-size="15.8" fill="#4D4D4D">0.4</text>
<path d="M59.0 37.10H62.10" stroke="#333" stroke-width="1.2"/>
<text x="56.9" y="43.10" text-anchor="end" font-size="15.8" fill="#4D4D4D">0.5</text>
<path d="M62.4 689.10H601.5" stroke="#EBEBEB" stroke-width="0.9"/>
<path d="M62.4 624.50H601.5" stroke="#EBEBEB" stroke-width="0.9"/>
<path d="M62.4 559.90H601.5" stroke="#EBEBEB" stroke-width="0.9"/>
<path d="M62.4 495.30H601.5" stroke="#EBEBEB" stroke-width="0.9"/>
<path d="M62.4 430.70H601.5" stroke="#EBEBEB" stroke-width="0.9"/>
<path d="M147.99 382.3V737.4" stroke="#EBEBEB" stroke-width="0.9"/>
<path d="M270.56 382.3V737.4" stroke="#EBEBEB" stroke-width="0.9"/>
<path d="M393.14 382.3V737.4" stroke="#EBEBEB" stroke-width="0.9"/>
<path d="M515.71 382.3V737.4" stroke="#EBEBEB" stroke-width="0.9"/>
<path d="M62.4 721.40H601.5" stroke="#EBEBEB" stroke-width="1.25"/>
<path d="M62.4 656.80H601.5" stroke="#EBEBEB" stroke-width="1.25"/>
<path d="M62.4 592.20H601.5" stroke="#EBEBEB" stroke-width="1.25"/>
<path d="M62.4 527.60H601.5" stroke="#EBEBEB" stroke-width="1.25"/>
<path d="M62.4 463.00H601.5" stroke="#EBEBEB" stroke-width="1.25"/>
<path d="M62.4 398.40H601.5" stroke="#EBEBEB" stroke-width="1.25"/>
<path d="M86.70 382.3V737.4" stroke="#EBEBEB" stroke-width="1.25"/>
<path d="M209.28 382.3V737.4" stroke="#EBEBEB" stroke-width="1.25"/>
<path d="M331.85 382.3V737.4" stroke="#EBEBEB" stroke-width="1.25"/>
<path d="M454.43 382.3V737.4" stroke="#EBEBEB" stroke-width="1.25"/>
<path d="M577.00 382.3V737.4" stroke="#EBEBEB" stroke-width="1.25"/>
<g stroke="#FFFF33" stroke-opacity="0.13" stroke-width="1" fill="none">
<path d="M104.1 503.3h7.6v7.6h-7.6zl7.6 7.6m0 -7.6l-7.6 7.6"/>
<path d="M152.0 488.8h7.6v7.6h-7.6zl7.6 7.6m0 -7.6l-7.6 7.6"/>
<path d="M157.5 507.8h7.6v7.6h-7.6zl7.6 7.6m0 -7.6l-7.6 7.6"/>
<path d="M165.7 505.8h7.6v7.6h-7.6zl7.6 7.6m0 -7.6l-7.6 7.6"/>
<path d="M174.9 522.1h7.6v7.6h-7.6zl7.6 7.6m0 -7.6l-7.6 7.6"/>
<path d="M191.8 497.6h7.6v7.6h-7.6zl7.6 7.6m0 -7.6l-7.6 7.6"/>
<path d="M190.2 510.9h7.6v7.6h-7.6zl7.6 7.6m0 -7.6l-7.6 7.6"/>
<path d="M194.2 515.9h7.6v7.6h-7.6zl7.6 7.6m0 -7.6l-7.6 7.6"/>
<path d="M203.4 499.6h7.6v7.6h-7.6zl7.6 7.6m0 -7.6l-7.6 7.6"/>
<path d="M202.4 508.8h7.6v7.6h-7.6zl7.6 7.6m0 -7.6l-7.6 7.6"/>
<path d="M208.5 500.7h7.6v7.6h-7.6zl7.6 7.6m0 -7.6l-7.6 7.6"/>
<path d="M200.3 527.2h7.6v7.6h-7.6zl7.6 7.6m0 -7.6l-7.6 7.6"/>
<path d="M208.5 528.2h7.6v7.6h-7.6zl7.6 7.6m0 -7.6l-7.6 7.6"/>
<path d="M222.8 548.6h7.6v7.6h-7.6zl7.6 7.6m0 -7.6l-7.6 7.6"/>
<path d="M316.6 556.6h7.6v7.6h-7.6zl7.6 7.6m0 -7.6l-7.6 7.6"/>
<path d="M330.9 564.8h7.6v7.6h-7.6zl7.6 7.6m0 -7.6l-7.6 7.6"/>
<path d="M347.2 564.8h7.6v7.6h-7.6zl7.6 7.6m0 -7.6l-7.6 7.6"/>
<path d="M359.5 566.8h7.6v7.6h-7.6zl7.6 7.6m0 -7.6l-7.6 7.6"/>
<path d="M368.6 575.0h7.6v7.6h-7.6zl7.6 7.6m0 -7.6l-7.6 7.6"/>
<path d="M304.4 587.2h7.6v7.6h-7.6zl7.6 7.6m0 -7.6l-7.6 7.6"/>
<path d="M302.3 593.3h7.6v7.6h-7.6zl7.6 7.6m0 -7.6l-7.6 7.6"/>
<path d="M316.6 584.2h7.6v7.6h-7.6zl7.6 7.6m0 -7.6l-7.6 7.6"/>
<path d="M334.0 586.2h7.6v7.6h-7.6zl7.6 7.6m0 -7.6l-7.6 7.6"/>
<path d="M349.2 593.3h7.6v7.6h-7.6zl7.6 7.6m0 -7.6l-7.6 7.6"/>
<path d="M363.5 594.3h7.6v7.6h-7.6zl7.6 7.6m0 -7.6l-7.6 7.6"/>
<path d="M336.2 588.2h7.6v7.6h-7.6zl7.6 7.6m0 -7.6l-7.6 7.6"/>
<path d="M314.2 588.2h7.6v7.6h-7.6zl7.6 7.6m0 -7.6l-7.6 7.6"/>
<path d="M410.5 587.2h7.6v7.6h-7.6zl7.6 7.6m0 -7.6l-7.6 7.6"/>
<path d="M416.6 584.2h7.6v7.6h-7.6zl7.6 7.6m0 -7.6l-7.6 7.6"/>
<path d="M429.9 591.3h7.6v7.6h-7.6zl7.6 7.6m0 -7.6l-7.6 7.6"/>
<path d="M437.0 605.6h7.6v7.6h-7.6zl7.6 7.6m0 -7.6l-7.6 7.6"/>
<path d="M441.1 609.7h7.6v7.6h-7.6zl7.6 7.6m0 -7.6l-7.6 7.6"/>
<path d="M244.0 531.6h7.6v7.6h-7.6zl7.6 7.6m0 -7.6l-7.6 7.6"/>
<path d="M257.6 535.4h7.6v7.6h-7.6zl7.6 7.6m0 -7.6l-7.6 7.6"/>
<path d="M272.2 550.2h7.6v7.6h-7.6zl7.6 7.6m0 -7.6l-7.6 7.6"/>
<path d="M290.6 557.6h7.6v7.6h-7.6zl7.6 7.6m0 -7.6l-7.6 7.6"/>
<path d="M243.2 545.3h7.6v7.6h-7.6zl7.6 7.6m0 -7.6l-7.6 7.6"/>
<path d="M309.2 567.1h7.6v7.6h-7.6zl7.6 7.6m0 -7.6l-7.6 7.6"/>
<path d="M261.1 539.6h7.6v7.6h-7.6zl7.6 7.6m0 -7.6l-7.6 7.6"/>
<path d="M323.1 565.9h7.6v7.6h-7.6zl7.6 7.6m0 -7.6l-7.6 7.6"/>
<path d="M341.7 567.0h7.6v7.6h-7.6zl7.6 7.6m0 -7.6l-7.6 7.6"/>
<path d="M286.6 558.6h7.6v7.6h-7.6zl7.6 7.6m0 -7.6l-7.6 7.6"/>
<path d="M352.1 568.7h7.6v7.6h-7.6zl7.6 7.6m0 -7.6l-7.6 7.6"/>
<path d="M315.8 567.4h7.6v7.6h-7.6zl7.6 7.6m0 -7.6l-7.6 7.6"/>
<path d="M245.5 531.0h7.6v7.6h-7.6zl7.6 7.6m0 -7.6l-7.6 7.6"/>
<path d="M216.2 513.1h7.6v7.6h-7.6zl7.6 7.6m0 -7.6l-7.6 7.6"/>
<path d="M311.7 561.5h7.6v7.6h-7.6zl7.6 7.6m0 -7.6l-7.6 7.6"/>
<path d="M245.7 536.4h7.6v7.6h-7.6zl7.6 7.6m0 -7.6l-7.6 7.6"/>
<path d="M359.8 575.7h7.6v7.6h-7.6zl7.6 7.6m0 -7.6l-7.6 7.6"/>
<path d="M261.6 546.9h7.6v7.6h-7.6zl7.6 7.6m0 -7.6l-7.6 7.6"/>
<path d="M356.5 563.4h7.6v7.6h-7.6zl7.6 7.6m0 -7.6l-7.6 7.6"/>
<path d="M217.7 507.6h7.6v7.6h-7.6zl7.6 7.6m0 -7.6l-7.6 7.6"/>
<path d="M241.9 536.2h7.6v7.6h-7.6zl7.6 7.6m0 -7.6l-7.6 7.6"/>
<path d="M348.1 569.7h7.6v7.6h-7.6zl7.6 7.6m0 -7.6l-7.6 7.6"/>
<path d="M199.9 520.0h7.6v7.6h-7.6zl7.6 7.6m0 -7.6l-7.6 7.6"/>
<path d="M250.7 526.3h7.6v7.6h-7.6zl7.6 7.6m0 -7.6l-7.6 7.6"/>
<path d="M226.5 529.1h7.6v7.6h-7.6zl7.6 7.6m0 -7.6l-7.6 7.6"/>
<path d="M352.0 571.3h7.6v7.6h-7.6zl7.6 7.6m0 -7.6l-7.6 7.6"/>
<path d="M222.1 524.5h7.6v7.6h-7.6zl7.6 7.6m0 -7.6l-7.6 7.6"/>
<path d="M226.8 524.3h7.6v7.6h-7.6zl7.6 7.6m0 -7.6l-7.6 7.6"/>
<path d="M210.1 515.8h7.6v7.6h-7.6zl7.6 7.6m0 -7.6l-7.6 7.6"/>
<path d="M347.4 576.6h7.6v7.6h-7.6zl7.6 7.6m0 -7.6l-7.6 7.6"/>
<path d="M355.1 578.1h7.6v7.6h-7.6zl7.6 7.6m0 -7.6l-7.6 7.6"/>
<path d="M233.6 525.7h7.6v7.6h-7.6zl7.6 7.6m0 -7.6l-7.6 7.6"/>
<path d="M228.5 530.3h7.6v7.6h-7.6zl7.6 7.6m0 -7.6l-7.6 7.6"/>
<path d="M254.0 535.3h7.6v7.6h-7.6zl7.6 7.6m0 -7.6l-7.6 7.6"/>
<path d="M245.6 532.9h7.6v7.6h-7.6zl7.6 7.6m0 -7.6l-7.6 7.6"/>
<path d="M238.8 533.7h7.6v7.6h-7.6zl7.6 7.6m0 -7.6l-7.6 7.6"/>
<path d="M282.0 551.7h7.6v7.6h-7.6zl7.6 7.6m0 -7.6l-7.6 7.6"/>
<path d="M296.8 555.3h7.6v7.6h-7.6zl7.6 7.6m0 -7.6l-7.6 7.6"/>
<path d="M241.1 531.2h7.6v7.6h-7.6zl7.6 7.6m0 -7.6l-7.6 7.6"/>
<path d="M240.4 534.2h7.6v7.6h-7.6zl7.6 7.6m0 -7.6l-7.6 7.6"/>
<path d="M198.9 503.5h7.6v7.6h-7.6zl7.6 7.6m0 -7.6l-7.6 7.6"/>
<path d="M253.6 550.0h7.6v7.6h-7.6zl7.6 7.6m0 -7.6l-7.6 7.6"/>
<path d="M300.6 566.6h7.6v7.6h-7.6zl7.6 7.6m0 -7.6l-7.6 7.6"/>
<path d="M330.7 558.2h7.6v7.6h-7.6zl7.6 7.6m0 -7.6l-7.6 7.6"/>
<path d="M284.3 544.7h7.6v7.6h-7.6zl7.6 7.6m0 -7.6l-7.6 7.6"/>
<path d="M329.8 568.0h7.6v7.6h-7.6zl7.6 7.6m0 -7.6l-7.6 7.6"/>
<path d="M327.0 567.2h7.6v7.6h-7.6zl7.6 7.6m0 -7.6l-7.6 7.6"/>
<path d="M234.0 524.4h7.6v7.6h-7.6zl7.6 7.6m0 -7.6l-7.6 7.6"/>
<path d="M196.8 508.4h7.6v7.6h-7.6zl7.6 7.6m0 -7.6l-7.6 7.6"/>
<path d="M289.1 557.4h7.6v7.6h-7.6zl7.6 7.6m0 -7.6l-7.6 7.6"/>
<path d="M274.7 552.0h7.6v7.6h-7.6zl7.6 7.6m0 -7.6l-7.6 7.6"/>
<path d="M235.3 534.4h7.6v7.6h-7.6zl7.6 7.6m0 -7.6l-7.6 7.6"/>
<path d="M286.4 548.0h7.6v7.6h-7.6zl7.6 7.6m0 -7.6l-7.6 7.6"/>
<path d="M217.5 519.9h7.6v7.6h-7.6zl7.6 7.6m0 -7.6l-7.6 7.6"/>
<path d="M279.6 561.8h7.6v7.6h-7.6zl7.6 7.6m0 -7.6l-7.6 7.6"/>
<path d="M205.2 518.3h7.6v7.6h-7.6zl7.6 7.6m0 -7.6l-7.6 7.6"/>
<path d="M312.8 561.6h7.6v7.6h-7.6zl7.6 7.6m0 -7.6l-7.6 7.6"/>
<path d="M204.6 511.2h7.6v7.6h-7.6zl7.6 7.6m0 -7.6l-7.6 7.6"/>
<path d="M189.8 527.9h7.6v7.6h-7.6zl7.6 7.6m0 -7.6l-7.6 7.6"/>
<path d="M366.7 578.2h7.6v7.6h-7.6zl7.6 7.6m0 -7.6l-7.6 7.6"/>
<path d="M234.0 528.0h7.6v7.6h-7.6zl7.6 7.6m0 -7.6l-7.6 7.6"/>
<path d="M260.2 542.3h7.6v7.6h-7.6zl7.6 7.6m0 -7.6l-7.6 7.6"/>
<path d="M368.5 573.2h7.6v7.6h-7.6zl7.6 7.6m0 -7.6l-7.6 7.6"/>
<path d="M232.7 528.9h7.6v7.6h-7.6zl7.6 7.6m0 -7.6l-7.6 7.6"/>
<path d="M353.9 578.3h7.6v7.6h-7.6zl7.6 7.6m0 -7.6l-7.6 7.6"/>
<path d="M366.0 571.0h7.6v7.6h-7.6zl7.6 7.6m0 -7.6l-7.6 7.6"/>
<path d="M198.2 521.1h7.6v7.6h-7.6zl7.6 7.6m0 -7.6l-7.6 7.6"/>
<path d="M345.1 555.1h7.6v7.6h-7.6zl7.6 7.6m0 -7.6l-7.6 7.6"/>
<path d="M338.5 569.3h7.6v7.6h-7.6zl7.6 7.6m0 -7.6l-7.6 7.6"/>
<path d="M230.3 524.8h7.6v7.6h-7.6zl7.6 7.6m0 -7.6l-7.6 7.6"/>
<path d="M227.4 527.1h7.6v7.6h-7.6zl7.6 7.6m0 -7.6l-7.6 7.6"/>
<path d="M254.4 520.0h7.6v7.6h-7.6zl7.6 7.6m0 -7.6l-7.6 7.6"/>
<path d="M231.7 517.6h7.6v7.6h-7.6zl7.6 7.6m0 -7.6l-7.6 7.6"/>
<path d="M313.9 558.3h7.6v7.6h-7.6zl7.6 7.6m0 -7.6l-7.6 7.6"/>
<path d="M233.2 534.6h7.6v7.6h-7.6zl7.6 7.6m0 -7.6l-7.6 7.6"/>
<path d="M318.4 562.7h7.6v7.6h-7.6zl7.6 7.6m0 -7.6l-7.6 7.6"/>
<path d="M248.3 550.0h7.6v7.6h-7.6zl7.6 7.6m0 -7.6l-7.6 7.6"/>
<path d="M350.9 573.9h7.6v7.6h-7.6zl7.6 7.6m0 -7.6l-7.6 7.6"/>
<path d="M346.3 571.7h7.6v7.6h-7.6zl7.6 7.6m0 -7.6l-7.6 7.6"/>
<path d="M279.2 557.3h7.6v7.6h-7.6zl7.6 7.6m0 -7.6l-7.6 7.6"/>
<path d="M216.6 523.0h7.6v7.6h-7.6zl7.6 7.6m0 -7.6l-7.6 7.6"/>
<path d="M248.5 532.8h7.6v7.6h-7.6zl7.6 7.6m0 -7.6l-7.6 7.6"/>
<path d="M231.8 535.8h7.6v7.6h-7.6zl7.6 7.6m0 -7.6l-7.6 7.6"/>
<path d="M217.6 522.3h7.6v7.6h-7.6zl7.6 7.6m0 -7.6l-7.6 7.6"/>
<path d="M259.6 536.9h7.6v7.6h-7.6zl7.6 7.6m0 -7.6l-7.6 7.6"/>
<path d="M243.0 533.3h7.6v7.6h-7.6zl7.6 7.6m0 -7.6l-7.6 7.6"/>
<path d="M298.5 556.7h7.6v7.6h-7.6zl7.6 7.6m0 -7.6l-7.6 7.6"/>
<path d="M367.8 572.1h7.6v7.6h-7.6zl7.6 7.6m0 -7.6l-7.6 7.6"/>
<path d="M310.5 555.1h7.6v7.6h-7.6zl7.6 7.6m0 -7.6l-7.6 7.6"/>
<path d="M347.4 569.2h7.6v7.6h-7.6zl7.6 7.6m0 -7.6l-7.6 7.6"/>
<path d="M258.1 547.4h7.6v7.6h-7.6zl7.6 7.6m0 -7.6l-7.6 7.6"/>
<path d="M249.4 535.2h7.6v7.6h-7.6zl7.6 7.6m0 -7.6l-7.6 7.6"/>
<path d="M272.1 555.8h7.6v7.6h-7.6zl7.6 7.6m0 -7.6l-7.6 7.6"/>
<path d="M230.8 533.1h7.6v7.6h-7.6zl7.6 7.6m0 -7.6l-7.6 7.6"/>
<path d="M291.3 554.9h7.6v7.6h-7.6zl7.6 7.6m0 -7.6l-7.6 7.6"/>
<path d="M313.1 566.2h7.6v7.6h-7.6zl7.6 7.6m0 -7.6l-7.6 7.6"/>
<path d="M261.2 546.6h7.6v7.6h-7.6zl7.6 7.6m0 -7.6l-7.6 7.6"/>
<path d="M294.5 550.3h7.6v7.6h-7.6zl7.6 7.6m0 -7.6l-7.6 7.6"/>
<path d="M250.8 540.3h7.6v7.6h-7.6zl7.6 7.6m0 -7.6l-7.6 7.6"/>
<path d="M236.1 528.4h7.6v7.6h-7.6zl7.6 7.6m0 -7.6l-7.6 7.6"/>
<path d="M359.2 575.4h7.6v7.6h-7.6zl7.6 7.6m0 -7.6l-7.6 7.6"/>
<path d="M356.4 571.5h7.6v7.6h-7.6zl7.6 7.6m0 -7.6l-7.6 7.6"/>
<path d="M263.1 544.0h7.6v7.6h-7.6zl7.6 7.6m0 -7.6l-7.6 7.6"/>
<path d="M352.9 559.3h7.6v7.6h-7.6zl7.6 7.6m0 -7.6l-7.6 7.6"/>
<path d="M277.7 553.2h7.6v7.6h-7.6zl7.6 7.6m0 -7.6l-7.6 7.6"/>
<path d="M365.1 576.2h7.6v7.6h-7.6zl7.6 7.6m0 -7.6l-7.6 7.6"/>
<path d="M228.8 537.1h7.6v7.6h-7.6zl7.6 7.6m0 -7.6l-7.6 7.6"/>
<path d="M259.8 543.1h7.6v7.6h-7.6zl7.6 7.6m0 -7.6l-7.6 7.6"/>
<path d="M298.9 550.2h7.6v7.6h-7.6zl7.6 7.6m0 -7.6l-7.6 7.6"/>
<path d="M365.7 571.6h7.6v7.6h-7.6zl7.6 7.6m0 -7.6l-7.6 7.6"/>
<path d="M316.9 555.9h7.6v7.6h-7.6zl7.6 7.6m0 -7.6l-7.6 7.6"/>
<path d="M361.4 573.2h7.6v7.6h-7.6zl7.6 7.6m0 -7.6l-7.6 7.6"/>
<path d="M289.2 550.5h7.6v7.6h-7.6zl7.6 7.6m0 -7.6l-7.6 7.6"/>
<path d="M323.7 558.4h7.6v7.6h-7.6zl7.6 7.6m0 -7.6l-7.6 7.6"/>
<path d="M218.7 528.3h7.6v7.6h-7.6zl7.6 7.6m0 -7.6l-7.6 7.6"/>
<path d="M201.6 517.1h7.6v7.6h-7.6zl7.6 7.6m0 -7.6l-7.6 7.6"/>
<path d="M269.7 543.2h7.6v7.6h-7.6zl7.6 7.6m0 -7.6l-7.6 7.6"/>
<path d="M214.2 531.0h7.6v7.6h-7.6zl7.6 7.6m0 -7.6l-7.6 7.6"/>
<path d="M278.4 551.2h7.6v7.6h-7.6zl7.6 7.6m0 -7.6l-7.6 7.6"/>
<path d="M319.4 560.6h7.6v7.6h-7.6zl7.6 7.6m0 -7.6l-7.6 7.6"/>
<path d="M325.7 565.3h7.6v7.6h-7.6zl7.6 7.6m0 -7.6l-7.6 7.6"/>
<path d="M292.8 544.4h7.6v7.6h-7.6zl7.6 7.6m0 -7.6l-7.6 7.6"/>
<path d="M335.5 557.8h7.6v7.6h-7.6zl7.6 7.6m0 -7.6l-7.6 7.6"/>
<path d="M309.1 561.8h7.6v7.6h-7.6zl7.6 7.6m0 -7.6l-7.6 7.6"/>
<path d="M359.1 572.0h7.6v7.6h-7.6zl7.6 7.6m0 -7.6l-7.6 7.6"/>
<path d="M314.1 550.2h7.6v7.6h-7.6zl7.6 7.6m0 -7.6l-7.6 7.6"/>
<path d="M366.7 583.2h7.6v7.6h-7.6zl7.6 7.6m0 -7.6l-7.6 7.6"/>
<path d="M210.4 523.0h7.6v7.6h-7.6zl7.6 7.6m0 -7.6l-7.6 7.6"/>
<path d="M219.6 502.2h7.6v7.6h-7.6zl7.6 7.6m0 -7.6l-7.6 7.6"/>
<path d="M286.6 546.6h7.6v7.6h-7.6zl7.6 7.6m0 -7.6l-7.6 7.6"/>
<path d="M337.6 577.2h7.6v7.6h-7.6zl7.6 7.6m0 -7.6l-7.6 7.6"/>
<path d="M294.2 556.7h7.6v7.6h-7.6zl7.6 7.6m0 -7.6l-7.6 7.6"/>
<path d="M284.3 558.3h7.6v7.6h-7.6zl7.6 7.6m0 -7.6l-7.6 7.6"/>
<path d="M218.4 532.9h7.6v7.6h-7.6zl7.6 7.6m0 -7.6l-7.6 7.6"/>
<path d="M209.4 526.0h7.6v7.6h-7.6zl7.6 7.6m0 -7.6l-7.6 7.6"/>
<path d="M289.5 559.2h7.6v7.6h-7.6zl7.6 7.6m0 -7.6l-7.6 7.6"/>
<path d="M271.8 554.4h7.6v7.6h-7.6zl7.6 7.6m0 -7.6l-7.6 7.6"/>
<path d="M196.8 524.6h7.6v7.6h-7.6zl7.6 7.6m0 -7.6l-7.6 7.6"/>
<path d="M216.7 526.8h7.6v7.6h-7.6zl7.6 7.6m0 -7.6l-7.6 7.6"/>
<path d="M222.6 527.9h7.6v7.6h-7.6zl7.6 7.6m0 -7.6l-7.6 7.6"/>
<path d="M258.4 549.8h7.6v7.6h-7.6zl7.6 7.6m0 -7.6l-7.6 7.6"/>
<path d="M306.0 558.2h7.6v7.6h-7.6zl7.6 7.6m0 -7.6l-7.6 7.6"/>
<path d="M367.0 571.6h7.6v7.6h-7.6zl7.6 7.6m0 -7.6l-7.6 7.6"/>
<path d="M318.8 562.7h7.6v7.6h-7.6zl7.6 7.6m0 -7.6l-7.6 7.6"/>
<path d="M201.6 520.2h7.6v7.6h-7.6zl7.6 7.6m0 -7.6l-7.6 7.6"/>
<path d="M244.3 537.0h7.6v7.6h-7.6zl7.6 7.6m0 -7.6l-7.6 7.6"/>
<path d="M184.6 524.1h7.6v7.6h-7.6zl7.6 7.6m0 -7.6l-7.6 7.6"/>
<path d="M329.8 564.6h7.6v7.6h-7.6zl7.6 7.6m0 -7.6l-7.6 7.6"/>
<path d="M329.4 552.8h7.6v7.6h-7.6zl7.6 7.6m0 -7.6l-7.6 7.6"/>
<path d="M364.1 564.8h7.6v7.6h-7.6zl7.6 7.6m0 -7.6l-7.6 7.6"/>
<path d="M189.1 523.6h7.6v7.6h-7.6zl7.6 7.6m0 -7.6l-7.6 7.6"/>
<path d="M260.9 538.3h7.6v7.6h-7.6zl7.6 7.6m0 -7.6l-7.6 7.6"/>
<path d="M303.1 553.7h7.6v7.6h-7.6zl7.6 7.6m0 -7.6l-7.6 7.6"/>
<path d="M353.1 566.9h7.6v7.6h-7.6zl7.6 7.6m0 -7.6l-7.6 7.6"/>
<path d="M223.3 532.5h7.6v7.6h-7.6zl7.6 7.6m0 -7.6l-7.6 7.6"/>
<path d="M310.6 562.0h7.6v7.6h-7.6zl7.6 7.6m0 -7.6l-7.6 7.6"/>
<path d="M265.1 550.4h7.6v7.6h-7.6zl7.6 7.6m0 -7.6l-7.6 7.6"/>
<path d="M262.7 542.3h7.6v7.6h-7.6zl7.6 7.6m0 -7.6l-7.6 7.6"/>
<path d="M347.0 568.8h7.6v7.6h-7.6zl7.6 7.6m0 -7.6l-7.6 7.6"/>
<path d="M207.5 525.3h7.6v7.6h-7.6zl7.6 7.6m0 -7.6l-7.6 7.6"/>
<path d="M260.8 542.9h7.6v7.6h-7.6zl7.6 7.6m0 -7.6l-7.6 7.6"/>
<path d="M237.9 527.3h7.6v7.6h-7.6zl7.6 7.6m0 -7.6l-7.6 7.6"/>
<path d="M251.3 544.5h7.6v7.6h-7.6zl7.6 7.6m0 -7.6l-7.6 7.6"/>
<path d="M305.0 552.2h7.6v7.6h-7.6zl7.6 7.6m0 -7.6l-7.6 7.6"/>
<path d="M347.6 574.1h7.6v7.6h-7.6zl7.6 7.6m0 -7.6l-7.6 7.6"/>
<path d="M278.7 549.7h7.6v7.6h-7.6zl7.6 7.6m0 -7.6l-7.6 7.6"/>
<path d="M270.7 539.0h7.6v7.6h-7.6zl7.6 7.6m0 -7.6l-7.6 7.6"/>
<path d="M258.2 542.5h7.6v7.6h-7.6zl7.6 7.6m0 -7.6l-7.6 7.6"/>
<path d="M197.0 508.5h7.6v7.6h-7.6zl7.6 7.6m0 -7.6l-7.6 7.6"/>
<path d="M295.3 545.5h7.6v7.6h-7.6zl7.6 7.6m0 -7.6l-7.6 7.6"/>
<path d="M366.0 578.7h7.6v7.6h-7.6zl7.6 7.6m0 -7.6l-7.6 7.6"/>
<path d="M319.6 568.6h7.6v7.6h-7.6zl7.6 7.6m0 -7.6l-7.6 7.6"/>
<path d="M367.1 572.5h7.6v7.6h-7.6zl7.6 7.6m0 -7.6l-7.6 7.6"/>
<path d="M339.0 559.1h7.6v7.6h-7.6zl7.6 7.6m0 -7.6l-7.6 7.6"/>
<path d="M283.1 542.6h7.6v7.6h-7.6zl7.6 7.6m0 -7.6l-7.6 7.6"/>
<path d="M344.9 566.6h7.6v7.6h-7.6zl7.6 7.6m0 -7.6l-7.6 7.6"/>
<path d="M286.0 546.2h7.6v7.6h-7.6zl7.6 7.6m0 -7.6l-7.6 7.6"/>
<path d="M239.2 530.1h7.6v7.6h-7.6zl7.6 7.6m0 -7.6l-7.6 7.6"/>
<path d="M276.9 549.5h7.6v7.6h-7.6zl7.6 7.6m0 -7.6l-7.6 7.6"/>
<path d="M340.9 569.7h7.6v7.6h-7.6zl7.6 7.6m0 -7.6l-7.6 7.6"/>
<path d="M219.7 516.7h7.6v7.6h-7.6zl7.6 7.6m0 -7.6l-7.6 7.6"/>
<path d="M202.8 507.1h7.6v7.6h-7.6zl7.6 7.6m0 -7.6l-7.6 7.6"/>
<path d="M222.0 523.9h7.6v7.6h-7.6zl7.6 7.6m0 -7.6l-7.6 7.6"/>
<path d="M297.8 559.7h7.6v7.6h-7.6zl7.6 7.6m0 -7.6l-7.6 7.6"/>
<path d="M302.7 555.5h7.6v7.6h-7.6zl7.6 7.6m0 -7.6l-7.6 7.6"/>
<path d="M225.6 524.4h7.6v7.6h-7.6zl7.6 7.6m0 -7.6l-7.6 7.6"/>
<path d="M243.6 536.9h7.6v7.6h-7.6zl7.6 7.6m0 -7.6l-7.6 7.6"/>
<path d="M295.5 556.5h7.6v7.6h-7.6zl7.6 7.6m0 -7.6l-7.6 7.6"/>
<path d="M269.4 555.3h7.6v7.6h-7.6zl7.6 7.6m0 -7.6l-7.6 7.6"/>
<path d="M359.1 569.0h7.6v7.6h-7.6zl7.6 7.6m0 -7.6l-7.6 7.6"/>
<path d="M261.2 557.4h7.6v7.6h-7.6zl7.6 7.6m0 -7.6l-7.6 7.6"/>
<path d="M247.4 534.8h7.6v7.6h-7.6zl7.6 7.6m0 -7.6l-7.6 7.6"/>
<path d="M270.7 545.6h7.6v7.6h-7.6zl7.6 7.6m0 -7.6l-7.6 7.6"/>
<path d="M253.4 546.7h7.6v7.6h-7.6zl7.6 7.6m0 -7.6l-7.6 7.6"/>
<path d="M258.8 545.3h7.6v7.6h-7.6zl7.6 7.6m0 -7.6l-7.6 7.6"/>
<path d="M240.1 536.4h7.6v7.6h-7.6zl7.6 7.6m0 -7.6l-7.6 7.6"/>
<path d="M247.7 540.0h7.6v7.6h-7.6zl7.6 7.6m0 -7.6l-7.6 7.6"/>
<path d="M250.8 545.2h7.6v7.6h-7.6zl7.6 7.6m0 -7.6l-7.6 7.6"/>
<path d="M276.8 557.2h7.6v7.6h-7.6zl7.6 7.6m0 -7.6l-7.6 7.6"/>
<path d="M265.8 548.7h7.6v7.6h-7.6zl7.6 7.6m0 -7.6l-7.6 7.6"/>
<path d="M237.7 543.3h7.6v7.6h-7.6zl7.6 7.6m0 -7.6l-7.6 7.6"/>
<path d="M268.6 550.3h7.6v7.6h-7.6zl7.6 7.6m0 -7.6l-7.6 7.6"/>
<path d="M277.5 549.2h7.6v7.6h-7.6zl7.6 7.6m0 -7.6l-7.6 7.6"/>
<path d="M246.4 536.5h7.6v7.6h-7.6zl7.6 7.6m0 -7.6l-7.6 7.6"/>
<path d="M279.3 557.7h7.6v7.6h-7.6zl7.6 7.6m0 -7.6l-7.6 7.6"/>
<path d="M256.6 538.6h7.6v7.6h-7.6zl7.6 7.6m0 -7.6l-7.6 7.6"/>
<path d="M264.1 549.7h7.6v7.6h-7.6zl7.6 7.6m0 -7.6l-7.6 7.6"/>
<path d="M284.8 541.8h7.6v7.6h-7.6zl7.6 7.6m0 -7.6l-7.6 7.6"/>
<path d="M284.5 545.6h7.6v7.6h-7.6zl7.6 7.6m0 -7.6l-7.6 7.6"/>
<path d="M249.7 540.5h7.6v7.6h-7.6zl7.6 7.6m0 -7.6l-7.6 7.6"/>
<path d="M249.9 541.1h7.6v7.6h-7.6zl7.6 7.6m0 -7.6l-7.6 7.6"/>
<path d="M267.5 547.3h7.6v7.6h-7.6zl7.6 7.6m0 -7.6l-7.6 7.6"/>
<path d="M268.7 545.4h7.6v7.6h-7.6zl7.6 7.6m0 -7.6l-7.6 7.6"/>
<path d="M265.8 546.5h7.6v7.6h-7.6zl7.6 7.6m0 -7.6l-7.6 7.6"/>
<path d="M277.7 547.0h7.6v7.6h-7.6zl7.6 7.6m0 -7.6l-7.6 7.6"/>
<path d="M236.0 526.1h7.6v7.6h-7.6zl7.6 7.6m0 -7.6l-7.6 7.6"/>
<path d="M269.4 549.1h7.6v7.6h-7.6zl7.6 7.6m0 -7.6l-7.6 7.6"/>
<path d="M237.7 532.9h7.6v7.6h-7.6zl7.6 7.6m0 -7.6l-7.6 7.6"/>
<path d="M243.7 538.5h7.6v7.6h-7.6zl7.6 7.6m0 -7.6l-7.6 7.6"/>
<path d="M249.5 541.1h7.6v7.6h-7.6zl7.6 7.6m0 -7.6l-7.6 7.6"/>
<path d="M252.4 543.0h7.6v7.6h-7.6zl7.6 7.6m0 -7.6l-7.6 7.6"/>
<path d="M275.9 552.6h7.6v7.6h-7.6zl7.6 7.6m0 -7.6l-7.6 7.6"/>
<path d="M264.2 540.3h7.6v7.6h-7.6zl7.6 7.6m0 -7.6l-7.6 7.6"/>
<path d="M249.3 544.6h7.6v7.6h-7.6zl7.6 7.6m0 -7.6l-7.6 7.6"/>
<path d="M269.0 541.8h7.6v7.6h-7.6zl7.6 7.6m0 -7.6l-7.6 7.6"/>
<path d="M232.1 535.3h7.6v7.6h-7.6zl7.6 7.6m0 -7.6l-7.6 7.6"/>
<path d="M275.4 547.4h7.6v7.6h-7.6zl7.6 7.6m0 -7.6l-7.6 7.6"/>
<path d="M235.9 532.9h7.6v7.6h-7.6zl7.6 7.6m0 -7.6l-7.6 7.6"/>
<path d="M252.8 538.0h7.6v7.6h-7.6zl7.6 7.6m0 -7.6l-7.6 7.6"/>
<path d="M278.6 546.4h7.6v7.6h-7.6zl7.6 7.6m0 -7.6l-7.6 7.6"/>
<path d="M246.4 534.0h7.6v7.6h-7.6zl7.6 7.6m0 -7.6l-7.6 7.6"/>
<path d="M251.8 534.4h7.6v7.6h-7.6zl7.6 7.6m0 -7.6l-7.6 7.6"/>
<path d="M254.0 546.4h7.6v7.6h-7.6zl7.6 7.6m0 -7.6l-7.6 7.6"/>
<path d="M236.6 525.0h7.6v7.6h-7.6zl7.6 7.6m0 -7.6l-7.6 7.6"/>
<path d="M233.7 534.9h7.6v7.6h-7.6zl7.6 7.6m0 -7.6l-7.6 7.6"/>
<path d="M256.7 543.5h7.6v7.6h-7.6zl7.6 7.6m0 -7.6l-7.6 7.6"/>
<path d="M250.4 540.8h7.6v7.6h-7.6zl7.6 7.6m0 -7.6l-7.6 7.6"/>
<path d="M258.1 547.1h7.6v7.6h-7.6zl7.6 7.6m0 -7.6l-7.6 7.6"/>
<path d="M244.5 534.0h7.6v7.6h-7.6zl7.6 7.6m0 -7.6l-7.6 7.6"/>
<path d="M248.8 533.6h7.6v7.6h-7.6zl7.6 7.6m0 -7.6l-7.6 7.6"/>
<path d="M292.7 587.0h7.6v7.6h-7.6zl7.6 7.6m0 -7.6l-7.6 7.6"/>
<path d="M328.4 581.1h7.6v7.6h-7.6zl7.6 7.6m0 -7.6l-7.6 7.6"/>
<path d="M325.7 591.9h7.6v7.6h-7.6zl7.6 7.6m0 -7.6l-7.6 7.6"/>
<path d="M329.7 588.1h7.6v7.6h-7.6zl7.6 7.6m0 -7.6l-7.6 7.6"/>
<path d="M322.4 583.9h7.6v7.6h-7.6zl7.6 7.6m0 -7.6l-7.6 7.6"/>
<path d="M288.8 586.2h7.6v7.6h-7.6zl7.6 7.6m0 -7.6l-7.6 7.6"/>
<path d="M292.4 583.0h7.6v7.6h-7.6zl7.6 7.6m0 -7.6l-7.6 7.6"/>
<path d="M315.9 589.6h7.6v7.6h-7.6zl7.6 7.6m0 -7.6l-7.6 7.6"/>
<path d="M336.0 590.0h7.6v7.6h-7.6zl7.6 7.6m0 -7.6l-7.6 7.6"/>
<path d="M327.1 581.5h7.6v7.6h-7.6zl7.6 7.6m0 -7.6l-7.6 7.6"/>
<path d="M310.4 590.5h7.6v7.6h-7.6zl7.6 7.6m0 -7.6l-7.6 7.6"/>
<path d="M323.8 590.5h7.6v7.6h-7.6zl7.6 7.6m0 -7.6l-7.6 7.6"/>
</g>
<rect x="227.10" y="539.00" width="7.60" height="7.60" fill="#4DAF4A"/>
<circle cx="240.60" cy="546.70" r="3.40" fill="#4DAF4A"/>
<rect x="227.10" y="539.00" width="7.60" height="7.60" fill="#FF7F00"/>
<polygon points="237.50,536.09 242.62,544.95 232.38,544.95" fill="#4DAF4A"/>
<circle cx="238.50" cy="545.00" r="3.80" fill="#FF7F00"/>
<polygon points="233.00,533.69 238.12,542.55 227.88,542.55" fill="#FF7F00"/>
<rect x="227.10" y="539.00" width="7.60" height="7.60" fill="#984EA3"/>
<polygon points="235.30,536.59 240.42,545.45 230.18,545.45" fill="#984EA3"/>
<circle cx="240.60" cy="546.70" r="3.70" fill="#984EA3"/>
<circle cx="302.70" cy="552.70" r="3.80" fill="#E41A1C"/>
<polygon points="311.40,551.99 316.52,560.85 306.28,560.85" fill="#E41A1C"/>
<rect x="338.20" y="548.30" width="7.60" height="7.60" fill="#E41A1C"/>
<circle cx="352.70" cy="584.80" r="3.80" fill="#377EB8"/>
<polygon points="356.80,579.19 361.92,588.05 351.68,588.05" fill="#377EB8"/>
<rect x="356.10" y="582.90" width="7.60" height="7.60" fill="#377EB8"/>
<rect x="62.40" y="382.30" width="539.10" height="355.10" fill="none" stroke="#707070" stroke-width="1.3"/>
<rect x="601.50" y="382.30" width="23.80" height="355.10" fill="#D9D9D9" stroke="#707070" stroke-width="1.3"/>
<text transform="translate(607.6 559.85) rotate(90)" text-anchor="middle" font-size="15.8" fill="#1A1A1A">Transcript-level</text>
<path d="M59.0 721.40H62.10" stroke="#333" stroke-width="1.2"/>
<text x="56.9" y="728.10" text-anchor="end" font-size="15.8" fill="#4D4D4D">0.0</text>
<path d="M59.0 656.80H62.10" stroke="#333" stroke-width="1.2"/>
<text x="56.9" y="663.50" text-anchor="end" font-size="15.8" fill="#4D4D4D">0.1</text>
<path d="M59.0 592.20H62.10" stroke="#333" stroke-width="1.2"/>
<text x="56.9" y="598.90" text-anchor="end" font-size="15.8" fill="#4D4D4D">0.2</text>
<path d="M59.0 527.60H62.10" stroke="#333" stroke-width="1.2"/>
<text x="56.9" y="534.30" text-anchor="end" font-size="15.8" fill="#4D4D4D">0.3</text>
<path d="M59.0 463.00H62.10" stroke="#333" stroke-width="1.2"/>
<text x="56.9" y="469.70" text-anchor="end" font-size="15.8" fill="#4D4D4D">0.4</text>
<path d="M59.0 398.40H62.10" stroke="#333" stroke-width="1.2"/>
<text x="56.9" y="405.10" text-anchor="end" font-size="15.8" fill="#4D4D4D">0.5</text>
<path d="M86.70 737.70V740.9" stroke="#333" stroke-width="1.2"/>
<text x="86.70" y="755.1" text-anchor="middle" font-size="15.8" fill="#4D4D4D">0.00</text>
<path d="M209.28 737.70V740.9" stroke="#333" stroke-width="1.2"/>
<text x="209.28" y="755.1" text-anchor="middle" font-size="15.8" fill="#4D4D4D">0.25</text>
<path d="M331.85 737.70V740.9" stroke="#333" stroke-width="1.2"/>
<text x="331.85" y="755.1" text-anchor="middle" font-size="15.8" fill="#4D4D4D">0.50</text>
<path d="M454.43 737.70V740.9" stroke="#333" stroke-width="1.2"/>
<text x="454.43" y="755.1" text-anchor="middle" font-size="15.8" fill="#4D4D4D">0.75</text>
<path d="M577.00 737.70V740.9" stroke="#333" stroke-width="1.2"/>
<text x="577.00" y="755.1" text-anchor="middle" font-size="15.8" fill="#4D4D4D">1.00</text>
<text x="62.8" y="11.9" font-size="15.3" fill="#000">Differential Expression Performance using a Microarray Reference</text>
<text x="331.8" y="782.9" text-anchor="middle" font-size="19.55" fill="#000">Recall (Average Across Microarray References)</text>
<text transform="translate(15.4 379.1) rotate(-90)" text-anchor="middle" font-size="19.62" fill="#000">Precision (Average Across Microarray References)</text>
<text x="643.2" y="222.5" font-size="19.9" fill="#000">DE Method</text>
<circle cx="653.00" cy="242.70" r="4.30" fill="#E41A1C"/>
<text x="672.2" y="249.30" font-size="15.8" fill="#000">edgeR</text>
<circle cx="653.00" cy="261.70" r="4.30" fill="#377EB8"/>
<text x="672.2" y="268.30" font-size="15.8" fill="#000">DESeq2</text>
<circle cx="653.00" cy="280.60" r="4.30" fill="#4DAF4A"/>
<text x="672.2" y="287.20" font-size="15.8" fill="#000">clr</text>
<circle cx="653.00" cy="299.50" r="4.30" fill="#984EA3"/>
<text x="672.2" y="306.10" font-size="15.8" fill="#000">iqlr</text>
<circle cx="653.00" cy="318.50" r="4.30" fill="#FF7F00"/>
<text x="672.2" y="325.10" font-size="15.8" fill="#000">ii1</text>
<circle cx="653.00" cy="352.70" r="4.30" fill="#FFFF33"/>
<text x="672.2" y="341.80" font-size="15.8" fill="#000">Data from</text>
<text x="672.2" y="358.80" font-size="15.8" fill="#000">Williams et al.</text>
<text x="672.2" y="375.80" font-size="15.8" fill="#000">(2017)</text>
<text x="643.2" y="416.8" font-size="19.7" fill="#000">Process Method</text>
<circle cx="653.00" cy="437.70" r="3.90" fill="#000"/>
<polygon points="653.00,450.69 658.12,459.55 647.88,459.55" fill="#000"/>
<rect x="649.30" y="471.80" width="7.40" height="7.40" fill="#000"/>
<path d="M646.92 494.40H659.08M653.00 488.32V500.48" stroke="#000" stroke-width="1.0" stroke-opacity="0.75" fill="none"/>
<text x="672.2" y="444.30" font-size="15.8" fill="#000">slFMD</text>
<text x="672.2" y="463.20" font-size="15.8" fill="#000">slQUASI</text>
<text x="672.2" y="482.10" font-size="15.8" fill="#000">stsl</text>
<text x="672.2" y="501.00" font-size="15.8" fill="#000">stst</text>
<path d="M649.10 524.30h7.80v7.80h-7.80zM649.10 524.30L656.90 532.10M656.90 524.30L649.10 532.10" stroke="#222" stroke-width="0.8" fill="none"/>
<text x="672.2" y="517.30" font-size="15.8" fill="#000">Data from</text>
<text x="672.2" y="534.00" font-size="15.8" fill="#000">Williams et al.</text>
<text x="672.2" y="550.70" font-size="15.8" fill="#000">(2017)</text>
</svg>
</body></html>
